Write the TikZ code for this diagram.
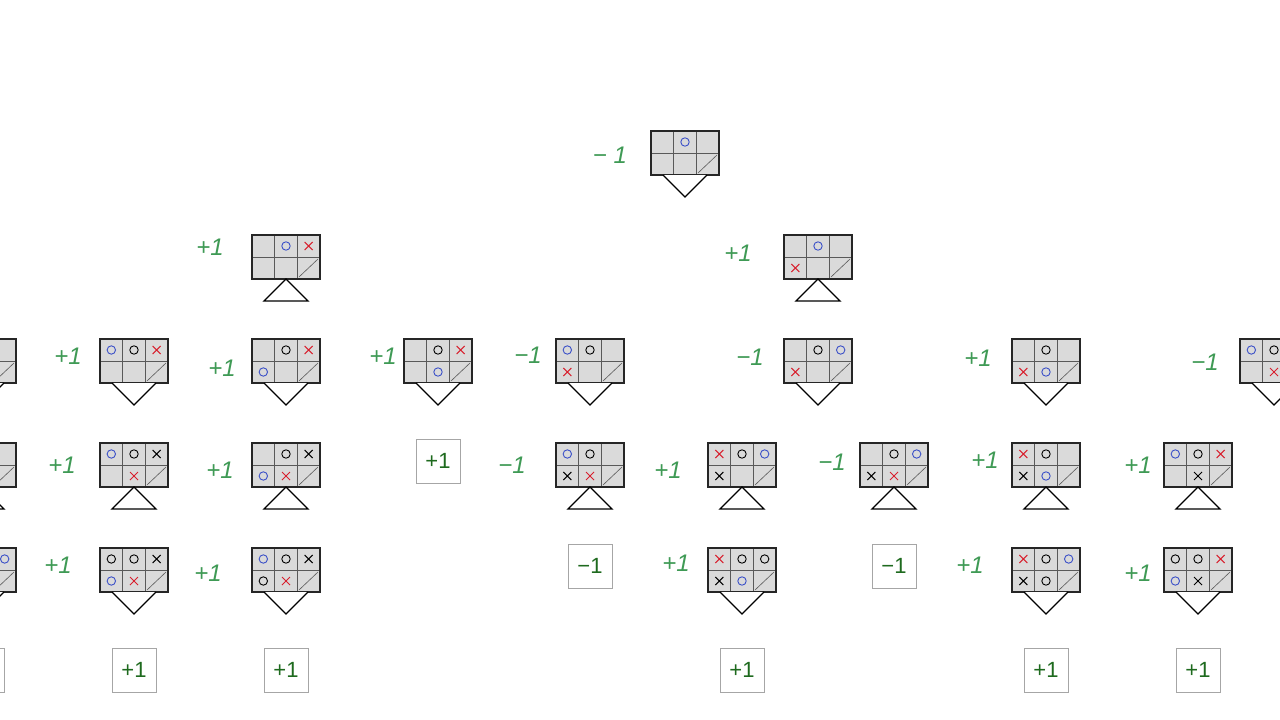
\documentclass[tikz,border=0pt]{standalone}
\usepackage{fontspec}
\setmainfont{Liberation Sans}
\usetikzlibrary{backgrounds}
\definecolor{bfill}{HTML}{DADADA}
\definecolor{ob}{HTML}{3A4FC8}
\definecolor{xr}{HTML}{D8202E}
\definecolor{hand}{HTML}{3F9A55}
\definecolor{leafg}{HTML}{1E6A1E}
\newcommand\mko[1]{\draw[ob,line width=0.9pt] #1 circle (4.2);}
\newcommand\mkk[1]{\draw[black,line width=0.9pt] #1 circle (4.2);}
\newcommand\mkx[1]{\draw[xr,line width=1pt] #1 ++(-4,-4) -- ++(8,8) #1 ++(-4,4) -- ++(8,-8);}
\newcommand\mky[1]{\draw[black,line width=1pt] #1 ++(-4,-4) -- ++(8,8) #1 ++(-4,4) -- ++(8,-8);}
\newcommand\mkn[1]{}
\newcommand\bmark[2]{\csname mk#1\endcsname{#2}}
\newcommand\trid{\draw[black,line width=1.3pt,fill=white] (-22,22) -- (0,44) -- (22,22);
  \coordinate (-out) at (0,44); \coordinate (-l) at (-11,33); \coordinate (-r) at (11,33);}
\newcommand\triu{\draw[black,line width=1.3pt,fill=white] (0,22) -- (-22,44) -- (22,44) -- cycle;
  \coordinate (-out) at (0,44); \coordinate (-l) at (-14,44); \coordinate (-r) at (14,44);}
\tikzset{
  x=1pt,y=-1pt,
  pics/board/.style args={#1#2#3#4#5#6}{code={
    \fill[bfill] (-34,-22) rectangle (34,22);
    \draw[gray!70!black,line width=0.8pt] (-11.33,-22) -- (-11.33,22) (11.33,-22) -- (11.33,22) (-34,0) -- (34,0);
    \draw[gray!70!black,line width=0.6pt] (13,20) -- (32,2);
    \draw[black!85,line width=1.3pt] (-34,-22) rectangle (34,22);
    \bmark{#1}{(-22.67,-11)}\bmark{#2}{(0,-11)}\bmark{#3}{(22.67,-11)}\bmark{#4}{(-22.67,11)}\bmark{#5}{(0,11)}
    \coordinate (-top) at (0,-22);
    \csname tri#6\endcsname
  }},
  edge/.style={draw=gray!60!black,line width=1.1pt},
  leaf/.style={draw=gray!70,line width=1pt,fill=white,minimum width=44pt,minimum height=44pt,
    text=leafg,font=\fontsize{22}{24}\selectfont,inner sep=0pt},
  lab/.style={text=hand,font=\fontsize{24}{26}\selectfont\itshape}
}
\newcommand\edg[3]{\draw[edge] (#1) .. controls +(#3,6) and +(0,-22) .. (#2);}
\begin{document}
\begin{tikzpicture}
\useasboundingbox (0,0) rectangle (1280,720);
\clip (0,0) rectangle (1280,720);
\fill[white] (0,0) rectangle (1280,720);
\pic (r) at (685,153) {board=nonnnd};
\pic (a) at (286,257) {board=noxnnu};
\pic (b) at (818,257) {board=nonxnu};
\pic (l0) at (-18,361) {board=nnnnnd};
\pic (a1) at (134,361) {board=okxnnd};
\pic (a2) at (286,361) {board=nkxond};
\pic (a3) at (438,361) {board=nkxnod};
\pic (b1) at (590,361) {board=oknxnd};
\pic (b2) at (818,361) {board=nkoxnd};
\pic (b3) at (1046,361) {board=nknxod};
\pic (rr) at (1274,361) {board=oknnxd};
\pic (l0b) at (-18,465) {board=nnnnnu};
\pic (a1b) at (134,465) {board=okynxu};
\pic (a2b) at (286,465) {board=nkyoxu};
\pic (b1b) at (590,465) {board=oknyxu};
\pic (b2a) at (742,465) {board=xkoynu};
\pic (b2b) at (894,465) {board=nkoyxu};
\pic (b3b) at (1046,465) {board=xknyou};
\pic (rrb) at (1198,465) {board=okxnyu};
\pic (l0c) at (-18,570) {board=nnonnd};
\pic (a1c) at (134,570) {board=kkyoxd};
\pic (a2c) at (286,570) {board=okykxd};
\pic (b2c) at (742,570) {board=xkkyod};
\pic (b3c) at (1046,570) {board=xkoykd};
\pic (rrc) at (1198,570) {board=kkxoyd};
\node[leaf] (la3) at (438,461) {+1};
\node[leaf] (lb1) at (590,566) {−1};
\node[leaf] (lb2b) at (894,566) {−1};
\node[leaf] (ll0) at (-18,670) {+1};
\node[leaf] (la1) at (134,670) {+1};
\node[leaf] (la2) at (286,670) {+1};
\node[leaf] (lb2a) at (742,670) {+1};
\node[leaf] (lb3) at (1046,670) {+1};
\node[leaf] (lrr) at (1198,670) {+1};
\coordinate (tl) at (-5,103);
\coordinate (tr) at (1285,97);
\coordinate (tr2) at (1285,110);
\coordinate (el) at (-5,213);
\coordinate (er) at (1285,213);
\coordinate (erp) at (1330,300);
\begin{scope}[on background layer]
\draw[edge] (tl) -- (tr);
\draw[edge] (tr2) .. controls (900,115) and (700,118) .. (r-top);
\draw[edge] (r-l) .. controls (500,195) and (200,205) .. (el);
\draw[edge] (r-r) .. controls (850,195) and (1150,208) .. (er);
\draw[edge] (r-l) .. controls (500,200) and (286,215) .. (a-top);
\draw[edge] (r-r) .. controls (760,200) and (818,210) .. (b-top);
\edg{a-out}{a1-top}{-110}
\draw[edge] (a-out) -- (a2-top);
\edg{a-out}{a3-top}{110}
\edg{b-out}{b1-top}{-160}
\draw[edge] (b-out) -- (b2-top);
\edg{b-out}{b3-top}{160}
\edg{erp}{rr-top}{-30}
\draw[edge] (l0-out) -- (l0b-top) (a1-out) -- (a1b-top) (a2-out) -- (a2b-top) (b1-out) -- (b1b-top) (b3-out) -- (b3b-top);
\draw[edge] (a3-out) -- (la3);
\edg{b2-out}{b2a-top}{-50}
\edg{b2-out}{b2b-top}{50}
\edg{rr-out}{rrb-top}{-50}
\draw[edge] (l0b-out) -- (l0c-top) (a1b-out) -- (a1c-top) (a2b-out) -- (a2c-top) (b2a-out) -- (b2c-top) (b3b-out) -- (b3c-top) (rrb-out) -- (rrc-top);
\draw[edge] (b1b-out) -- (lb1) (b2b-out) -- (lb2b);
\draw[edge] (l0c-out) -- (ll0) (a1c-out) -- (la1) (a2c-out) -- (la2) (b2c-out) -- (lb2a) (b3c-out) -- (lb3) (rrc-out) -- (lrr);
\end{scope}
\node[lab] (h0) at (610,155) {− 1};
\node[lab] (h1) at (210,247) {+1};
\node[lab] (h2) at (738,253) {+1};
\node[lab] (h3) at (68,356) {+1};
\node[lab] (h4) at (222,368) {+1};
\node[lab] (h5) at (383,356) {+1};
\node[lab] (h6) at (528,355) {−1};
\node[lab] (h7) at (750,357) {−1};
\node[lab] (h8) at (978,358) {+1};
\node[lab] (h9) at (1205,362) {−1};
\node[lab] (h10) at (62,465) {+1};
\node[lab] (h11) at (220,470) {+1};
\node[lab] (h12) at (512,465) {−1};
\node[lab] (h13) at (668,470) {+1};
\node[lab] (h14) at (832,462) {−1};
\node[lab] (h15) at (985,460) {+1};
\node[lab] (h16) at (1138,465) {+1};
\node[lab] (h17) at (58,565) {+1};
\node[lab] (h18) at (208,573) {+1};
\node[lab] (h19) at (676,563) {+1};
\node[lab] (h20) at (970,565) {+1};
\node[lab] (h21) at (1138,573) {+1};
\end{tikzpicture}
\end{document}
